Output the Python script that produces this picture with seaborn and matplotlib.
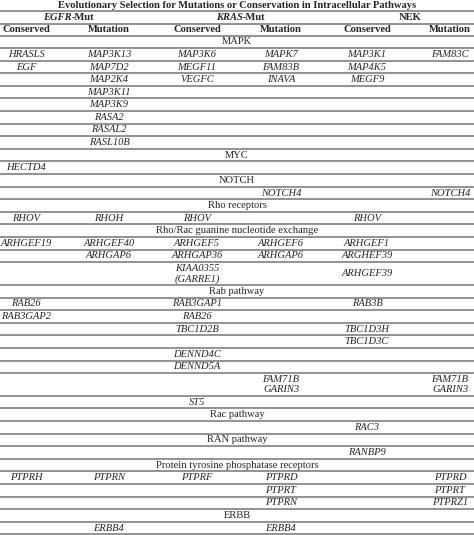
import matplotlib
matplotlib.use("Agg")
import matplotlib.pyplot as plt
import seaborn as sns

sns.set_theme(style="white")
plt.rcParams['font.family'] = ['Liberation Serif', 'DejaVu Serif']

title = "Evolutionary Selection for Mutations or Conservation in Intracellular Pathways"
groups = [("EGFR", "-Mut"), ("KRAS", "-Mut"), ("", "NEK")]
subheaders = ["Conserved", "Mutation", "Conserved", "Mutation", "Conserved", "Mutation"]

sections = ["MAPK", "MYC", "NOTCH", "Rho receptors", "Rho/Rac guanine nucleotide exchange",
            "Rab pathway", "Rac pathway", "RAN pathway",
            "Protein tyrosine phosphatase receptors", "ERBB"]

mapk_rows = [
    ["HRASLS", "MAP3K13", "MAP3K6", "MAPK7", "MAP3K1", "FAM83C"],
    ["EGF", "MAP7D2", "MEGF11", "FAM83B", "MAP4K5", ""],
    ["", "MAP2K4", "VEGFC", "INAVA", "MEGF9", ""],
    ["", "MAP3K11", "", "", "", ""],
    ["", "MAP3K9", "", "", "", ""],
    ["", "RASA2", "", "", "", ""],
    ["", "RASAL2", "", "", "", ""],
    ["", "RASL10B", "", "", "", ""],
]
myc_rows = [["HECTD4", "", "", "", "", ""]]
notch_rows = [["", "", "", "NOTCH4", "", "NOTCH4"]]
rho_rows = [["RHOV", "RHOH", "RHOV", "", "RHOV", ""]]
rhorac_rows = [
    ["ARHGEF19", "ARHGEF40", "ARHGEF5", "ARHGEF6", "ARHGEF1", ""],
    ["", "ARHGAP6", "ARHGAP36", "ARHGAP6", "ARGHEF39", ""],
    ["", "", "KIAA0355\n(GARRE1)", "", "ARHGEF39", ""],
]
rab_rows = [
    ["RAB26", "", "RAB3GAP1", "", "RAB3B", ""],
    ["RAB3GAP2", "", "RAB26", "", "", ""],
    ["", "", "TBC1D2B", "", "TBC1D3H", ""],
    ["", "", "", "", "TBC1D3C", ""],
    ["", "", "DENND4C", "", "", ""],
    ["", "", "DENND5A", "", "", ""],
    ["", "", "", "FAM71B\nGARIN3", "", "FAM71B\nGARIN3"],
    ["", "", "ST5", "", "", ""],
]
rac_rows = [["", "", "", "", "RAC3", ""]]
ran_rows = [["", "", "", "", "RANBP9", ""]]
ptp_rows = [
    ["PTPRH", "PTPRN", "PTPRF", "PTPRD", "", "PTPRD"],
    ["", "", "", "PTPRT", "", "PTPRT"],
    ["", "", "", "PTPRN", "", "PTPRZ1"],
]
erbb_rows = [["", "ERBB4", "", "ERBB4", "", ""]]
section_rows = [mapk_rows, myc_rows, notch_rows, rho_rows, rhorac_rows,
                rab_rows, rac_rows, ran_rows, ptp_rows, erbb_rows]

col_x = [26, 109, 197, 281, 367, 450]
group_split = [72, 243, 410]

fig = plt.figure(figsize=(4.74, 5.35), dpi=100)
ax = fig.add_axes([0, 0, 1, 1])
ax.set_xlim(0, 474)
ax.set_ylim(535, 0)
ax.axis("off")

fs = 7.6
line_kw = dict(color="#8a8a8a", lw=1.3)
h = 12.6

ax.text(237, 5, title, ha="center", va="center", fontsize=fs, fontweight="bold")
ax.axhline(11, **line_kw)
for (it, rest), xs in zip(groups, group_split):
    if it:
        ax.text(xs, 17.5, it, ha="right", va="center", fontsize=fs, fontweight="bold", style="italic")
        ax.text(xs, 17.5, rest, ha="left", va="center", fontsize=fs, fontweight="bold")
    else:
        ax.text(xs, 17.5, rest, ha="center", va="center", fontsize=fs, fontweight="bold")
ax.axhline(23.5, **line_kw)
for x, s in zip(col_x, subheaders):
    ax.text(x, 29.5, s, ha="center", va="center", fontsize=fs, fontweight="bold")

y = 35.5
ax.axhline(y, **line_kw)
for name, rows in zip(sections, section_rows):
    ax.text(237, y + h / 2, name, ha="center", va="center", fontsize=fs)
    y += h
    ax.axhline(y, **line_kw)
    for row in rows:
        tall = any("\n" in c for c in row)
        rh = h * 1.8 if tall else h
        for x, c in zip(col_x, row):
            if c:
                ax.text(x, y + rh / 2, c, ha="center", va="center", fontsize=fs,
                        style="italic", linespacing=1.2)
        y += rh
        ax.axhline(y, **line_kw)

fig.savefig("out.png", dpi=100, facecolor="white")
